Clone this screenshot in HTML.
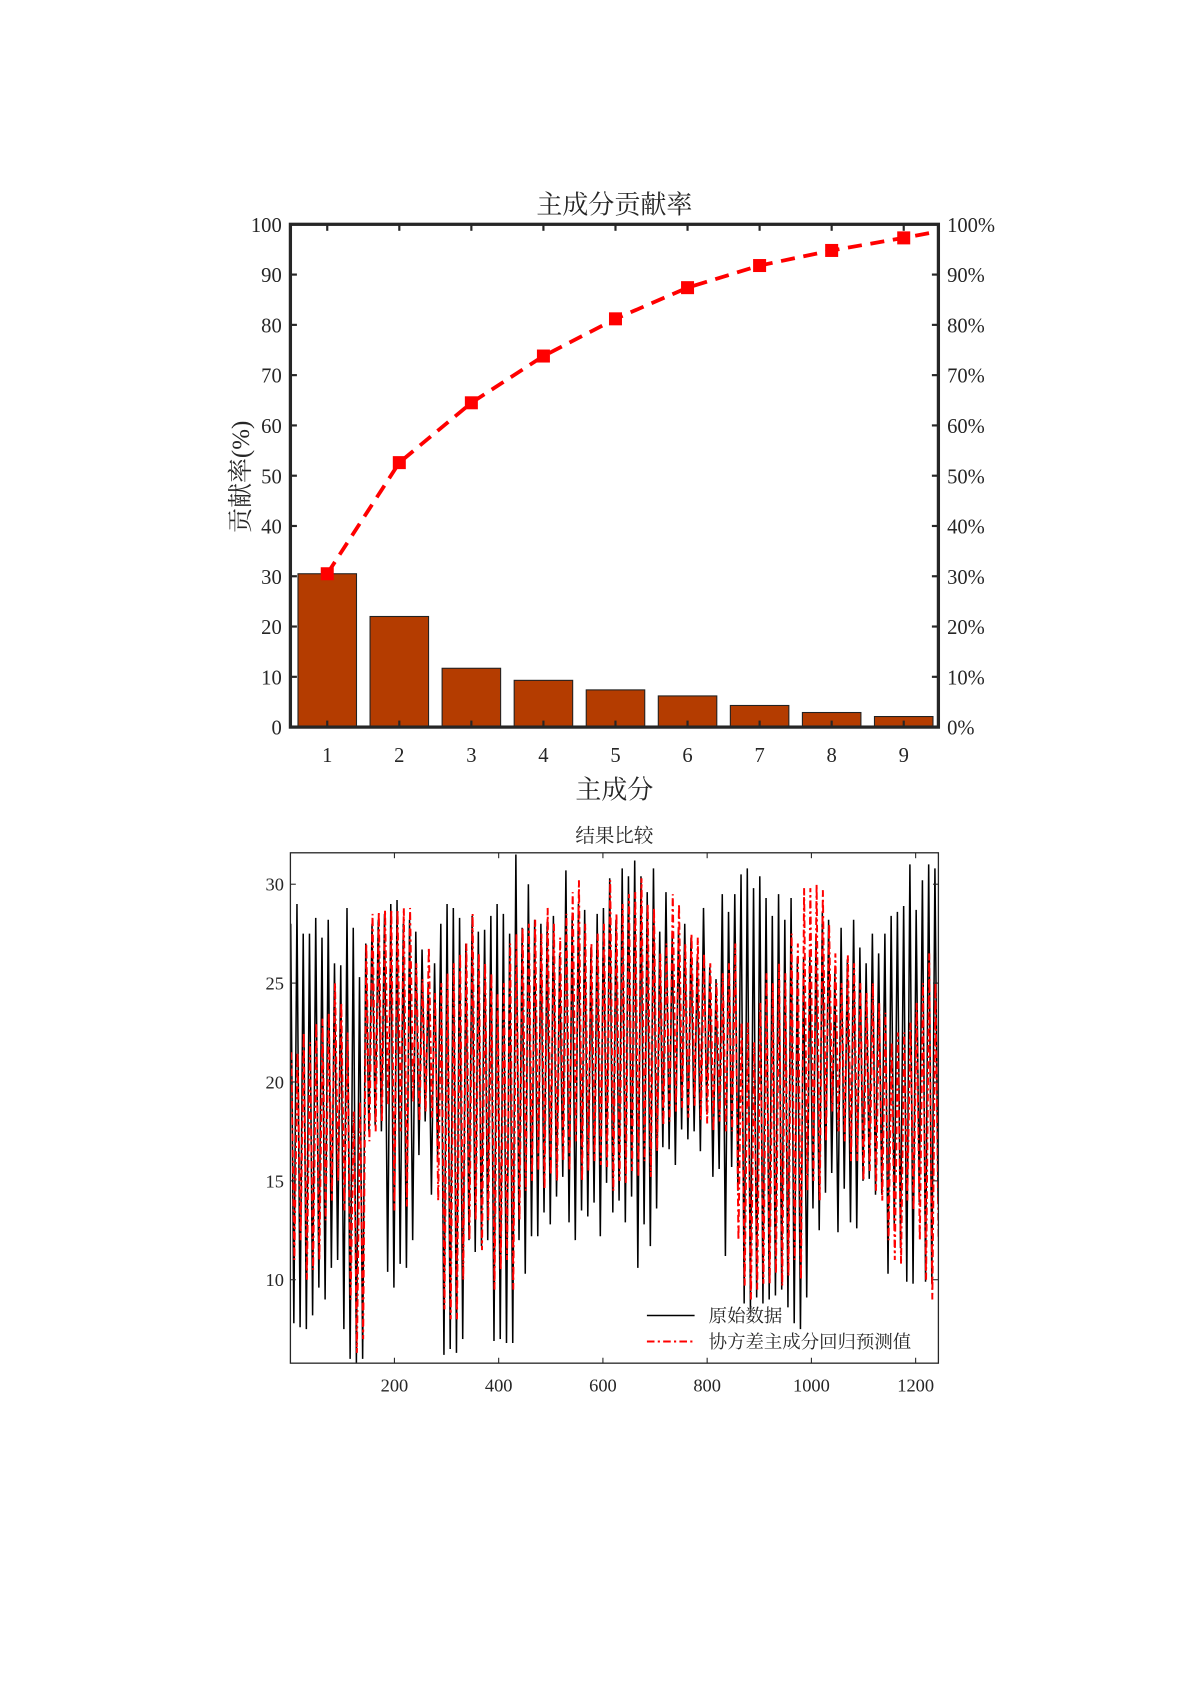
<!DOCTYPE html>
<html><head><meta charset="utf-8"><style>
html,body{margin:0;padding:0;background:#fff}
svg{display:block}
text{font-family:"Liberation Serif","Noto Serif CJK SC",serif;fill:#262626}
</style></head><body>
<svg id="fig" width="1192" height="1685" viewBox="0 0 1192 1685" xmlns="http://www.w3.org/2000/svg">
<g transform="scale(1.0836)">
<g id="topchart"></g>
<g id="botchart"></g>
</g>
</svg>
<script>
// ---- chart 1 data ----
const categories = [1,2,3,4,5,6,7,8,9];
const contribution = [30.5,22.0,11.7,9.3,7.4,6.2,4.3,2.9,2.1];
const cumulative = [30.5,52.6,64.5,73.8,81.2,87.4,91.8,94.8,97.3,100];
const leftTicks = [0,10,20,30,40,50,60,70,80,90,100];
const rightTickLabels = ["0%","10%","20%","30%","40%","50%","60%","70%","80%","90%","100%"];
// ---- chart 2 data (per-cycle peaks/troughs) ----
const blackHigh = [28,29,27.5,27.5,28.3,27.3,28.2,26,25.9,28.8, 27.8,25.3,27,28,28.2,28.5,29,29.2,28,28.2, 27.6,26.7,25,26,28,29,28.8,28.3,27,28.4, 27.6,27.7,28.4,29,28.5,27.5,31.5,27.8,30,28.2, 28,28.1,28.4,26.5,30.7,28.4,29,28.7,26.8,28.5, 28.8,30.3,28.2,30.8,30.4,31.2,30.4,29.6,30.8,27.6, 29.6,27.4,27.8,28,27.3,26.3,28.8,25.8,25.2,29.5, 28.6,29.5,30.5,30.8,29.8,30.4,29.3,28.4,29.5,28.2, 29.3,26.3,26.3,26.4,27.5,28.6,28.2,25.5,27.8,26.2, 28.2,26.8,26,27.5,26.5,27.5,28.4,28.6,28.9,31,28.7,30.2,31,30.8];
const blackLow = [7.8,7.6,7.5,8.2,9.6,9,10.6,11,7.5,6, 5.8,6,17.5,17.8,17.5,10.4,9.6,10.8,10.6,12, 16.3,18,14.3,16,6.2,6.5,6.3,7,12,11.4, 11.7,12,6.9,7,6.8,6.8,12,10.3,12.2,12.2, 13.4,12.8,14.2,15.2,12.9,12,13.5,13.2,13.9,12.2, 14.9,13.4,14,12.9,14.2,10.6,12.8,11.7,13.6,16.7, 16.6,15.8,17.6,17.1,17.5,16.5,18.5,15.2,15.6,11.2, 15.7,14.5,8.8,8.5,9.1,8.8,9,9.2,9.5,8.6, 7.8,7.5,9.1,13.6,12.5,14.4,15.4,12.4,14.6,12.9, 12.6,15,15.1,14.3,14.3,10.3,12.7,11.6,9.9,9.8,13.9,9.9,9.8,14];
const redHigh = [21.5,21.5,22.5,22,23,23.2,23.5,25,24,22.5, 18.5,19,27,28.5,28.6,28.7,28.7,28.7,28.8,28.8, 26,25.2,26.8,24.5,25,25.5,26,26.5,27,28.5, 26.5,26,25.5,24.5,25,27,27.5,27.8,28,28.2, 27.5,28.8,28,27.3,28.5,29.6,30.2,28,27,27.5, 28,30.2,28.5,29,29.5,29.6,30.3,29,28.8,26.5, 27,29.5,29,27,27.5,27.3,26.5,26,25,25.5, 26,27,23,23,22,24,25.5,25,26,25.5, 27.5,27,29.8,29.8,30,29.7,28,26.5,25,26.4, 26,25,24.5,25,24,23.5,22,22.5,22.5,23,24,25,26.5,25];
const redLow = [11,12,10,10.5,11,13,14,15,13.5,9, 6.3,7,17,17.5,18,18.8,13.5,17.5,13.7,19, 18,18.5,18.2,14,8.5,8,8,10,12,13, 11.5,13,9.5,10.5,11,9.5,13,14.5,15,15.5, 14.6,15.3,15,16,15.5,17,15,15.5,16,15.8, 15.7,14.5,15,14.9,15.5,15.2,16,15.2,16.5,17.8, 18,18.5,18.7,18.2,18.8,18.1,17.9,17.5,18,17.5, 17.5,12,9.7,9,9.5,9.8,9.8,10.3,9.7,10.2, 11,10,14.5,15,14,17,18.5,17.5,17,16, 16,15,15.5,14.5,14,12,11,10.8,14,13.5,12,10,9,12];
const xTicks2 = [200,400,600,800,1000,1200];
const yTicks2 = [10,15,20,25,30];
const legendLabels = ["原始数据","协方差主成分回归预测值"];

const NS="http://www.w3.org/2000/svg";
function mk(parent,tag,attrs,text){const e=document.createElementNS(NS,tag);for(const k in attrs)e.setAttribute(k,attrs[k]);if(text!==undefined)e.textContent=text;parent.appendChild(e);return e;}

// ---- chart 1 ----
const topG=document.getElementById('topchart');
const L=268,R=866,T=207,B=671;
const xs1=c=>302+(c-1)*66.5;
const ys1=v=>B-(v/100)*(B-T);
mk(topG,'defs',{}).innerHTML='<clipPath id="c1"><rect x="268" y="207" width="598" height="464"/></clipPath>';
contribution.forEach((v,i)=>{
  const r=mk(topG,'rect',{x:xs1(categories[i])-27,y:ys1(v),width:54,height:B-ys1(v),fill:'#b43c00',stroke:'#222','stroke-width':1});
  
  
});
const pts=cumulative.map((v,i)=>xs1(i+1)+','+ys1(v)).join(' ');
const pl=mk(topG,'polyline',{points:pts,fill:'none',stroke:'#ff0000','stroke-width':3.5,'stroke-dasharray':'13,8','clip-path':'url(#c1)'});


cumulative.forEach((v,i)=>{
  if(i>=categories.length)return;
  const m=mk(topG,'rect',{x:xs1(i+1)-6,y:ys1(v)-6,width:12,height:12,fill:'#ff0000'});
  
  
});
leftTicks.forEach((t,i)=>{
  const y=ys1(t);
  mk(topG,'line',{x1:L,y1:y,x2:L+6,y2:y,stroke:'#262626','stroke-width':2});
  mk(topG,'line',{x1:R,y1:y,x2:R-6,y2:y,stroke:'#262626','stroke-width':2});
  const a=mk(topG,'text',{x:L-8,y:y+7,'text-anchor':'end','font-size':19},String(t));
  
  
  const b=mk(topG,'text',{x:R+8,y:y+7,'font-size':19},rightTickLabels[i]);
  
  
});
categories.forEach(c=>{
  const x=xs1(c);
  mk(topG,'line',{x1:x,y1:B,x2:x,y2:B-6,stroke:'#262626','stroke-width':2});
  mk(topG,'line',{x1:x,y1:T,x2:x,y2:T+6,stroke:'#262626','stroke-width':2});
  const t=mk(topG,'text',{x:x,y:B+32,'text-anchor':'middle','font-size':19},String(c));
  
  
});
const frame1=mk(topG,'rect',{x:L,y:T,width:R-L,height:B-T,fill:'none',stroke:'#262626','stroke-width':3});


const t1=mk(topG,'text',{x:567,y:197,'text-anchor':'middle','font-size':24},'主成分贡献率');


const xl=mk(topG,'text',{x:567,y:737,'text-anchor':'middle','font-size':24},'主成分');


const yl=mk(topG,'text',{x:0,y:0,'text-anchor':'middle','font-size':23,transform:'translate(230,440) rotate(-90)'},'贡献率(%)');



// ---- chart 2 ----
const botG=document.getElementById('botchart');
const L2=268,R2=866,T2=787,B2=1258;
const xs2=v=>364+(v-200)*0.481;
const ys2=v=>816+(30-v)*18.25;
mk(botG,'defs',{}).innerHTML='<clipPath id="c2"><rect x="268" y="787" width="598" height="471"/></clipPath>';
function series(hi,lo,off){
  const p=[];
  for(let k=0;k<hi.length;k++){
    p.push(xs2(1+off+12*k)+','+ys2(hi[k]));
    p.push(xs2(7+off+12*k)+','+ys2(lo[k]));
  }
  return p.join(' ');
}
const bl=mk(botG,'polyline',{points:series(blackHigh,blackLow,0),fill:'none',stroke:'#000','stroke-width':1.4,'clip-path':'url(#c2)'});


const rl=mk(botG,'polyline',{points:series(redHigh,redLow,1),fill:'none',stroke:'#ff0000','stroke-width':1.8,'stroke-dasharray':'7,3,2,3','clip-path':'url(#c2)'});


xTicks2.forEach(t=>{
  const x=xs2(t);
  mk(botG,'line',{x1:x,y1:B2,x2:x,y2:B2-5,stroke:'#262626','stroke-width':1});
  mk(botG,'line',{x1:x,y1:T2,x2:x,y2:T2+5,stroke:'#262626','stroke-width':1});
  const e=mk(botG,'text',{x:x,y:B2+26,'text-anchor':'middle','font-size':17},String(t));
  
  
});
yTicks2.forEach(t=>{
  const y=ys2(t);
  mk(botG,'line',{x1:L2,y1:y,x2:L2+5,y2:y,stroke:'#262626','stroke-width':1});
  mk(botG,'line',{x1:R2,y1:y,x2:R2-5,y2:y,stroke:'#262626','stroke-width':1});
  const e=mk(botG,'text',{x:L2-6,y:y+6,'text-anchor':'end','font-size':17},String(t));
  
  
});
const frame2=mk(botG,'rect',{x:L2,y:T2,width:R2-L2,height:B2-T2,fill:'none',stroke:'#262626','stroke-width':1.2});


const t2=mk(botG,'text',{x:567,y:777,'text-anchor':'middle','font-size':18},'结果比较');


const lg=mk(botG,'g',{});


mk(lg,'line',{x1:597,y1:1214,x2:641,y2:1214,stroke:'#000','stroke-width':1.4});
mk(lg,'line',{x1:597,y1:1238,x2:641,y2:1238,stroke:'#ff0000','stroke-width':1.8,'stroke-dasharray':'7,3,2,3'});
legendLabels.forEach((s,i)=>{
  const e=mk(lg,'text',{x:654,y:1220+i*24,'font-size':17},s);
  
  
});
</script>
</body></html>
